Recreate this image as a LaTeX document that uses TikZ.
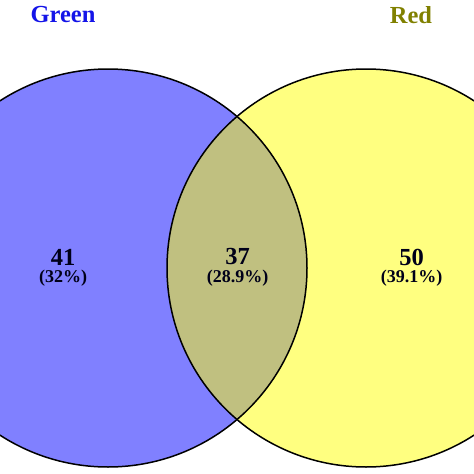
\documentclass[tikz,border=0pt]{standalone}
\usepackage{fontspec}
\setmainfont{Liberation Serif}
\definecolor{setblue}{HTML}{8080FF}
\definecolor{setyellow}{HTML}{FFFF80}
\definecolor{setboth}{HTML}{C0C080}
\definecolor{titleblue}{HTML}{1414E8}
\definecolor{titleolive}{HTML}{808000}
\begin{document}
\begin{tikzpicture}[x=1pt,y=-1pt,
  title/.style={font=\bfseries\fontsize{24.5}{26}\selectfont, inner sep=0pt},
  count/.style={font=\bfseries\fontsize{24.5}{26}\selectfont, inner sep=0pt, text=black!90!blue},
  pct/.style={font=\bfseries\fontsize{18}{20}\selectfont, inner sep=0pt, text=black!90!blue},
  outline/.style={draw=black, line width=1.5pt}]
\useasboundingbox (0,0) rectangle (474,474);
\begin{scope}
  \clip (0,0) rectangle (474,474);
  \fill[setblue] (108,268) circle[radius=199pt];
  \fill[setyellow] (366,268) circle[radius=199pt];
  \begin{scope}
    \clip (108,268) circle[radius=199pt];
    \fill[setboth] (366,268) circle[radius=199pt];
  \end{scope}
  \draw[outline] (108,268) circle[radius=199pt];
  \draw[outline] (366,268) circle[radius=199pt];
\end{scope}
\node[title, text=titleblue] (green) at (63,15) {Green};
\node[title, text=titleolive] (red) at (411,15) {Red};
\node[count] (n41) at (63,257) {41};
\node[pct] (p41) at (63,278) {(32\%)};
\node[count] (n37) at (237.5,257) {37};
\node[pct] (p37) at (237.5,278) {(28.9\%)};
\node[count] (n50) at (411.5,257) {50};
\node[pct] (p50) at (411.5,278) {(39.1\%)};
\end{tikzpicture}
\end{document}
